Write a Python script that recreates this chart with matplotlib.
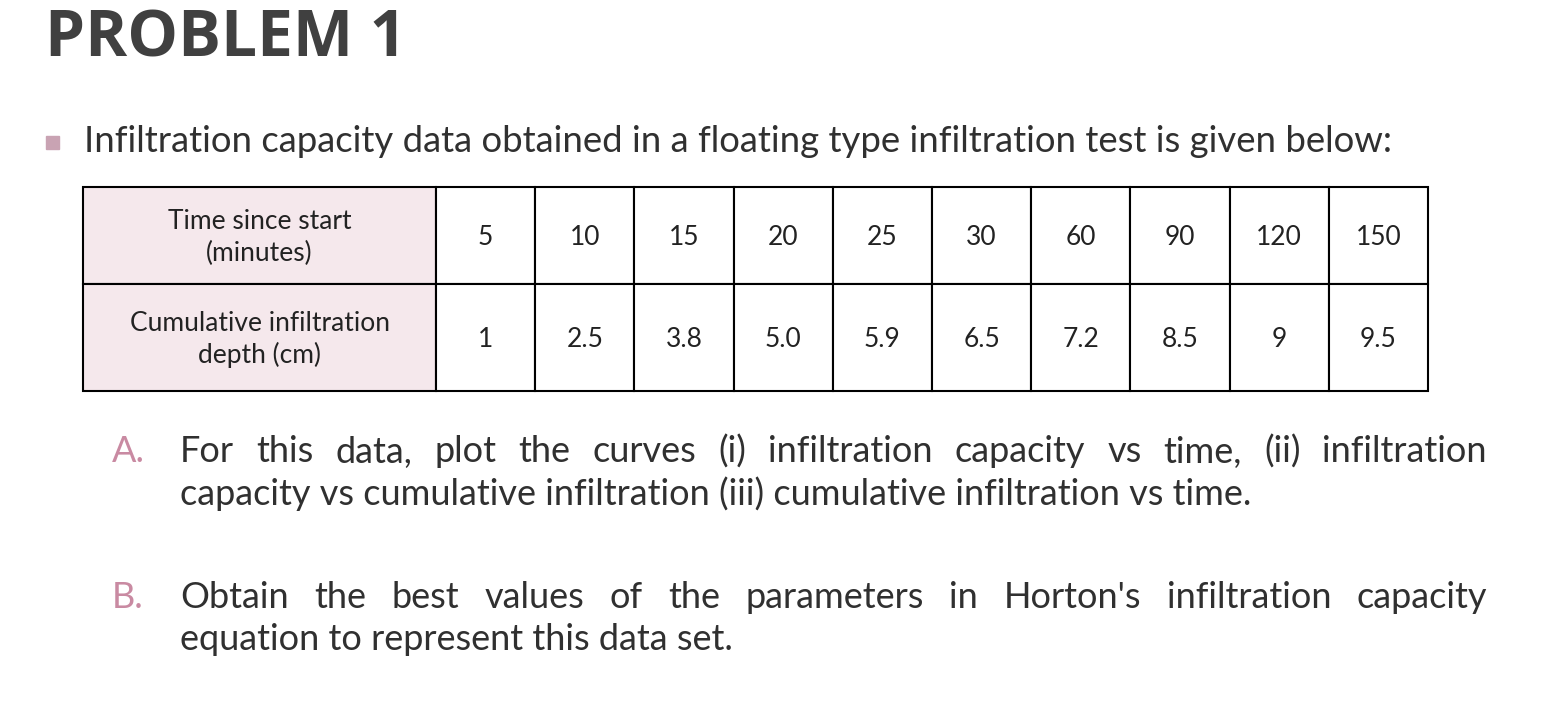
import matplotlib
matplotlib.use('Agg')
import matplotlib.pyplot as plt
from matplotlib.patches import Rectangle

times = ['5', '10', '15', '20', '25', '30', '60', '90', '120', '150']
depths = ['1', '2.5', '3.8', '5.0', '5.9', '6.5', '7.2', '8.5', '9', '9.5']
row_heads = ['Time since start\n(minutes)', 'Cumulative infiltration\ndepth (cm)']
title = 'PROBLEM 1'
intro = 'Infiltration capacity data obtained in a floating type infiltration test is given below:'
items = [
    ('A.', ['For this data, plot the curves (i) infiltration capacity vs time, (ii) infiltration',
            'capacity vs cumulative infiltration (iii) cumulative infiltration vs time.']),
    ('B.', ["Obtain the best values of the parameters in Horton's infiltration capacity",
            'equation to represent this data set.']),
]

W, H = 1554, 717
fig = plt.figure(figsize=(W / 100, H / 100), dpi=100)
ax = fig.add_axes([0, 0, 1, 1])
ax.set_xlim(0, W)
ax.set_ylim(H, 0)
ax.axis('off')

dark = '#404040'
pink = '#c98aa2'
body_font = 'Lato'
body_size = 26

ax.text(45, 40, title, fontsize=46, fontweight='bold', family='Open Sans',
        color=dark, va='center', ha='left')

ax.add_patch(Rectangle((46, 136), 13, 13, color='#c9a3b3'))
ax.text(84, 142, intro, fontsize=26.3, family=body_font, color='#303030', va='center')

# table
x0, x1, xs = 83, 1428, 436
ys = [187, 284, 391]
col_w = (x1 - xs) / len(times)
for r, (head, vals) in enumerate(zip(row_heads, [times, depths])):
    ya, yb = ys[r], ys[r + 1]
    ax.add_patch(Rectangle((x0, ya), xs - x0, yb - ya, facecolor='#f5e8ec',
                           edgecolor='black', lw=1.5))
    ax.text((x0 + xs) / 2, (ya + yb) / 2 + 2, head, fontsize=19, family=body_font,
            ha='center', va='center', linespacing=1.3, color='#222222')
    for c, v in enumerate(vals):
        xa = xs + c * col_w
        ax.add_patch(Rectangle((xa, ya), col_w, yb - ya, facecolor='white',
                               edgecolor='black', lw=1.5))
        ax.text(xa + col_w / 2, (ya + yb) / 2 + 2, v, fontsize=19, family=body_font,
                ha='center', va='center', color='#222222')

# justified paragraphs
fig.canvas.draw()
renderer = fig.canvas.get_renderer()
left, right = 180, 1487
starts = [452, 598]
for (label, lines), y0 in zip(items, starts):
    ax.text(112, y0, label, fontsize=body_size, family=body_font, color=pink, va='center')
    for i, line in enumerate(lines):
        y = y0 + i * 42
        words = line.split(' ')
        last = i == len(lines) - 1
        if last:
            ax.text(left, y, line, fontsize=body_size, family=body_font, color='#303030', va='center')
            continue
        arts = [ax.text(0, y, w, fontsize=body_size, family=body_font, color='#303030', va='center')
                for w in words]
        widths = [a.get_window_extent(renderer).width for a in arts]
        gap = (right - left - sum(widths)) / (len(words) - 1)
        x = left
        for a, wd in zip(arts, widths):
            a.set_x(x)
            x += wd + gap

fig.savefig('out.png', dpi=100, facecolor='white')
